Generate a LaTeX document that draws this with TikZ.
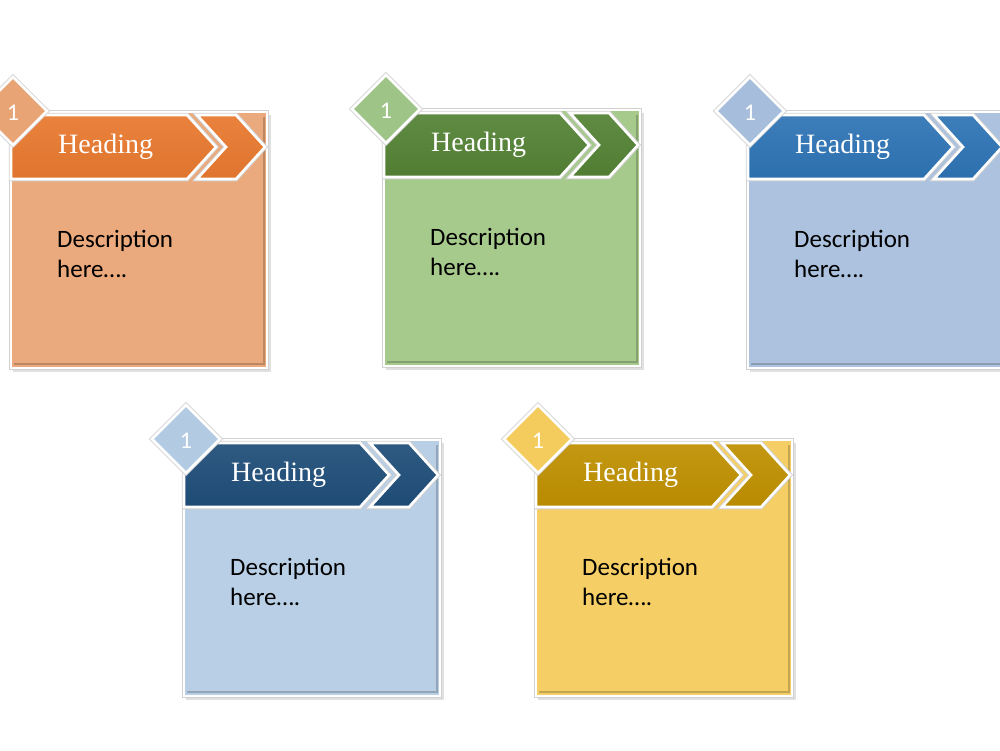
\documentclass[tikz,border=0pt]{standalone}
\usepackage{fontspec}
\newfontfamily\descfont{Carlito}
\newfontfamily\headfont{Liberation Serif}
\definecolor{obody}{HTML}{EBAA7D}\definecolor{oband}{HTML}{E8792F}\definecolor{odia}{HTML}{E9A476}
\definecolor{gbody}{HTML}{A6C98C}\definecolor{gband}{HTML}{548235}\definecolor{gdia}{HTML}{9FC487}
\definecolor{bbody}{HTML}{ACC2DF}\definecolor{bband}{HTML}{2E74B5}\definecolor{bdia}{HTML}{A6BDDC}
\definecolor{nbody}{HTML}{B8CFE6}\definecolor{nband}{HTML}{1F4E79}\definecolor{ndia}{HTML}{B3CAE3}
\definecolor{ybody}{HTML}{F5CF66}\definecolor{yband}{HTML}{BF9000}\definecolor{ydia}{HTML}{F4CC5E}
\tikzset{
  halo/.style={draw=black!18, line width=4.5pt},
  rim/.style={draw=white, line width=2.6pt, line join=miter},
  headtext/.style={font=\headfont\fontsize{28}{32}\selectfont, text=white, anchor=base west, inner sep=0pt},
  desctext/.style={font=\descfont\fontsize{25}{30}\selectfont, text=black, anchor=base west, inner sep=0pt},
  numtext/.style={font=\descfont\fontsize{24}{26}\selectfont, text=white, inner sep=0pt},
}
\newcommand\mycard[6]{%
\begin{scope}[shift={(#1,#2)}]
  \fill[black!12] (2,3) rectangle (260,260);
  \draw[halo] (0,0) rectangle (256,256);
  \filldraw[fill=#3, rim] (0,0) rectangle (256,256);
  \draw[#3!80!black, line width=2pt] (3,252) -- (253,252) -- (253,5);
  \draw[halo] (0,3) -- (176,3) -- (205,35) -- (176,67) -- (0,67) -- cycle;
  \shade[top color=#4!93!white, bottom color=#4!96!black] (0,3) -- (176,3) -- (205,35) -- (176,67) -- (0,67) -- cycle;
  \draw[rim] (0,3) -- (176,3) -- (205,35) -- (176,67) -- (0,67) -- cycle;
  \draw[halo] (186,3) -- (225,3) -- (254,35) -- (225,67) -- (186,67) -- (215,35) -- cycle;
  \shade[top color=#4!93!white, bottom color=#4!96!black] (186,3) -- (225,3) -- (254,35) -- (225,67) -- (186,67) -- (215,35) -- cycle;
  \draw[rim] (186,3) -- (225,3) -- (254,35) -- (225,67) -- (186,67) -- (215,35) -- cycle;
  \draw[halo] (2,-35) -- (36,-1) -- (2,33) -- (-32,-1) -- cycle;
  \filldraw[fill=#5, rim] (2,-35) -- (36,-1) -- (2,33) -- (-32,-1) -- cycle;
  \node[numtext] (#6num) at (2,1) {1};
  \node[headtext] (#6head) at (47,41.5) {Heading};
  \node[desctext] (#6d1) at (46,135.5) {Description};
  \node[desctext] (#6d2) at (46,165.5) {here….};
\end{scope}}
\begin{document}
\begin{tikzpicture}[x=1pt, y=-1pt]
  \useasboundingbox (0,0) rectangle (1000,750);
  \clip (0,0) rectangle (1000,750);
  \fill[white] (0,0) rectangle (1000,750);
  \mycard{11}{112}{obody}{oband}{odia}{c1}
  \mycard{384}{110}{gbody}{gband}{gdia}{c2}
  \mycard{748}{112}{bbody}{bband}{bdia}{c3}
  \mycard{184}{440}{nbody}{nband}{ndia}{c4}
  \mycard{536}{440}{ybody}{yband}{ydia}{c5}
\end{tikzpicture}
\end{document}
